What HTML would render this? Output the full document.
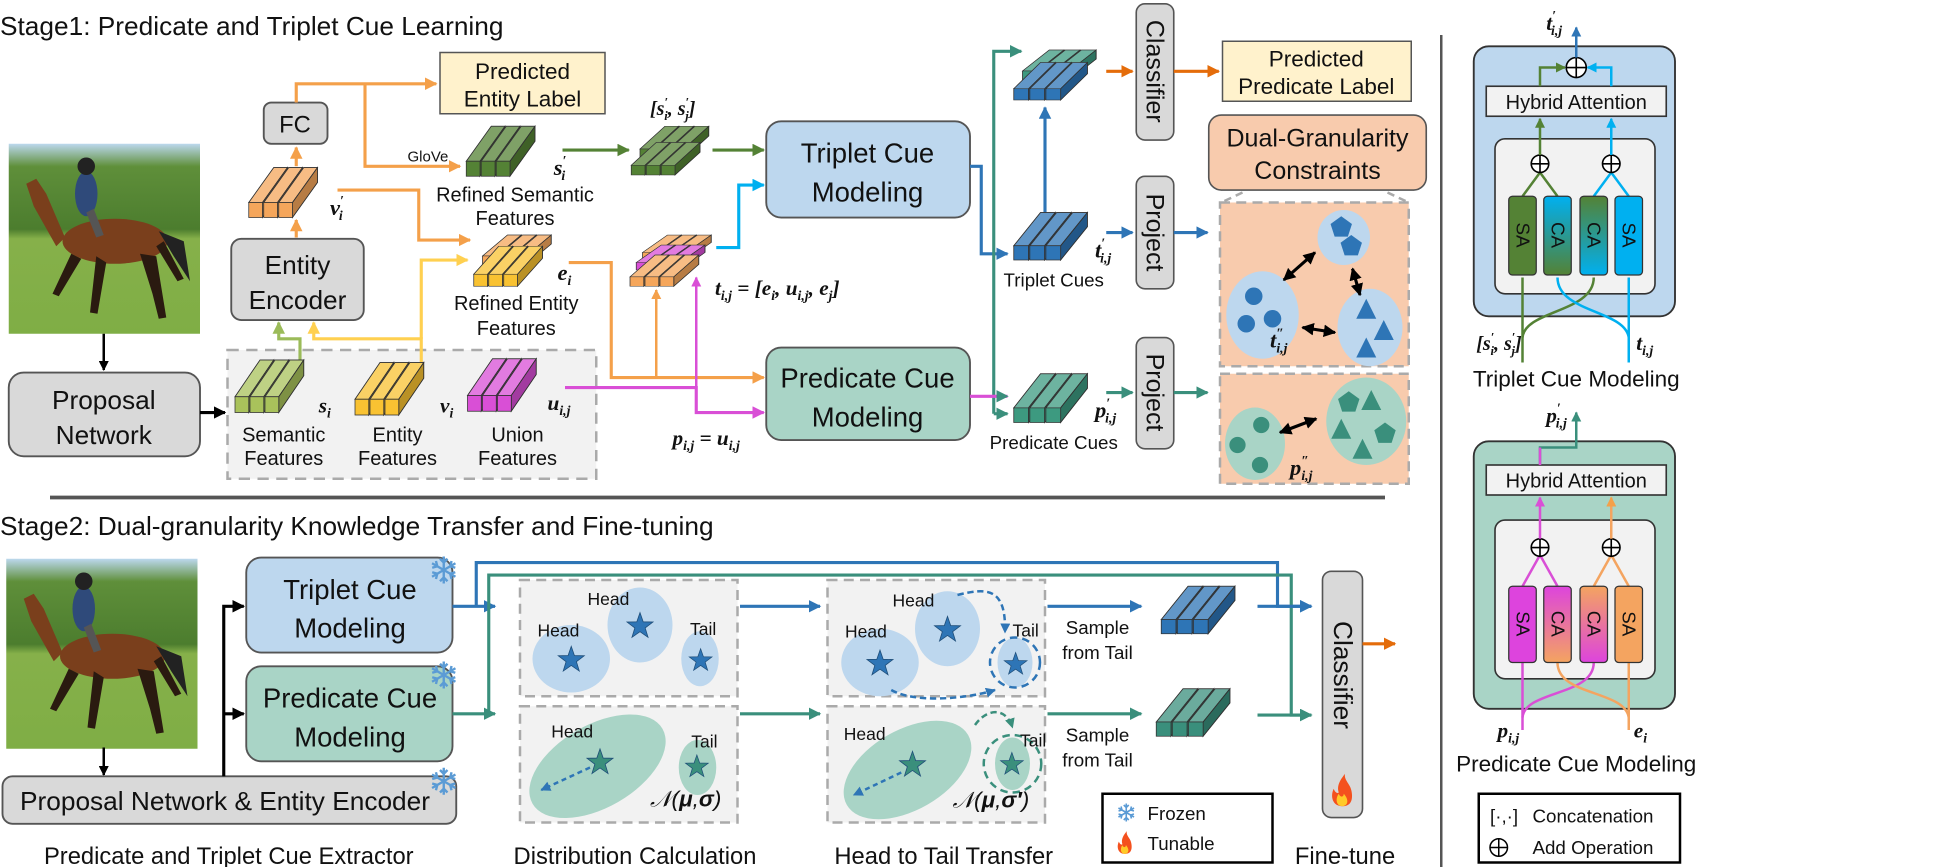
<!DOCTYPE html>
<html><head><meta charset="utf-8"><style>
html,body{margin:0;padding:0;background:#fff;}
svg{display:block;}
text{font-family:"Liberation Sans",sans-serif;fill:#111;}
.m{font-family:"Liberation Serif",serif;font-style:italic;font-weight:bold;}
</style></head><body>
<svg width="1943" height="867" viewBox="0 0 1554.4 693.6" preserveAspectRatio="none" xmlns="http://www.w3.org/2000/svg">
<defs>
<symbol id="bar" viewBox="0 0 56 40" preserveAspectRatio="none" overflow="visible">
 <g stroke="#333" stroke-width="0.6">
 <polygon points="0,28 11,28 31,0 20,0" fill="currentColor"/><polygon points="0,28 11,28 31,0 20,0" fill="#fff" fill-opacity=".25"/>
 <polygon points="11,28 31,0 31,12 11,40" fill="currentColor"/><polygon points="11,28 31,0 31,12 11,40" fill="#000" fill-opacity=".25"/>
 <rect x="0" y="28" width="11" height="12" fill="currentColor"/>
 <polygon points="12,28 23,28 43,0 32,0" fill="currentColor"/><polygon points="12,28 23,28 43,0 32,0" fill="#fff" fill-opacity=".25"/>
 <polygon points="23,28 43,0 43,12 23,40" fill="currentColor"/><polygon points="23,28 43,0 43,12 23,40" fill="#000" fill-opacity=".25"/>
 <rect x="12" y="28" width="11" height="12" fill="currentColor"/>
 <polygon points="24,28 35,28 55,0 44,0" fill="currentColor"/><polygon points="24,28 35,28 55,0 44,0" fill="#fff" fill-opacity=".25"/>
 <polygon points="35,28 55,0 55,12 35,40" fill="currentColor"/><polygon points="35,28 55,0 55,12 35,40" fill="#000" fill-opacity=".25"/>
 <rect x="24" y="28" width="11" height="12" fill="currentColor"/>
 </g>
</symbol>
<symbol id="star" viewBox="-11 -11 22 22" overflow="visible"><polygon points="0,-10 2.35,-3.24 9.51,-3.09 3.80,1.24 5.88,8.09 0,4 -5.88,8.09 -3.80,1.24 -9.51,-3.09 -2.35,-3.24" fill="currentColor" stroke="#1f4e79" stroke-width="0.6"/></symbol>
<symbol id="pent" viewBox="-10 -10 20 20" overflow="visible"><polygon points="0,-9 8.56,-2.78 5.29,7.28 -5.29,7.28 -8.56,-2.78" fill="currentColor"/></symbol>
<symbol id="tri" viewBox="-10 -10 20 20" overflow="visible"><polygon points="0,-9 8,7 -8,7" fill="currentColor"/></symbol>
<symbol id="snow" viewBox="-10 -10 20 20" overflow="visible"><g stroke="#5b9bd5" stroke-width="1.6" fill="none"><path d="M0,-9V9M-7.8,-4.5L7.8,4.5M-7.8,4.5L7.8,-4.5M-2.5,-7.5L0,-5L2.5,-7.5M-2.5,7.5L0,5L2.5,7.5M-7.7,-1.5L-4.3,-2.5L-5.2,-6M7.7,1.5L4.3,2.5L5.2,6M-7.7,1.5L-4.3,2.5L-5.2,6M7.7,-1.5L4.3,-2.5L5.2,-6"/></g></symbol>
<symbol id="fire" viewBox="-10 -14 20 28" overflow="visible"><path d="M0,13C-8,13 -10,5 -7,-1C-6,2 -4,3 -3,2C-5,-4 -1,-9 2,-13C1,-8 6,-5 7,0C8,4 9,13 0,13Z" fill="#f4511e"/><path d="M0,13C-5,13 -6,7 -3,3C-2,6 1,6 1,3C4,6 6,12 0,13Z" fill="#ffca28"/></symbol>
<linearGradient id="sky" x1="0" y1="0" x2="0" y2="1"><stop offset="0" stop-color="#bcd8ee"/><stop offset=".12" stop-color="#5f8f3a"/><stop offset=".45" stop-color="#4c7d2e"/><stop offset=".5" stop-color="#86b04a"/><stop offset="1" stop-color="#7fae45"/></linearGradient>
<linearGradient id="gc" x1="0" y1="0" x2="0" y2="1"><stop offset="0" stop-color="#00b0f0"/><stop offset="1" stop-color="#548235"/></linearGradient>
<linearGradient id="cg" x1="0" y1="0" x2="0" y2="1"><stop offset="0" stop-color="#548235"/><stop offset="1" stop-color="#00b0f0"/></linearGradient>
<linearGradient id="mo" x1="0" y1="0" x2="0" y2="1"><stop offset="0" stop-color="#dd44dd"/><stop offset="1" stop-color="#f4a460"/></linearGradient>
<linearGradient id="om" x1="0" y1="0" x2="0" y2="1"><stop offset="0" stop-color="#f4a460"/><stop offset="1" stop-color="#dd44dd"/></linearGradient>
<marker id="mO" viewBox="0 0 10 10" refX="9" refY="5" markerWidth="4" markerHeight="4" orient="auto"><path d="M0,0L10,5L0,10z" fill="#f4a04a"/></marker>
<marker id="mG" viewBox="0 0 10 10" refX="9" refY="5" markerWidth="4" markerHeight="4" orient="auto"><path d="M0,0L10,5L0,10z" fill="#548235"/></marker>
<marker id="mB" viewBox="0 0 10 10" refX="9" refY="5" markerWidth="4" markerHeight="4" orient="auto"><path d="M0,0L10,5L0,10z" fill="#2e75b6"/></marker>
<marker id="mC" viewBox="0 0 10 10" refX="9" refY="5" markerWidth="4" markerHeight="4" orient="auto"><path d="M0,0L10,5L0,10z" fill="#00b0f0"/></marker>
<marker id="mM" viewBox="0 0 10 10" refX="9" refY="5" markerWidth="4" markerHeight="4" orient="auto"><path d="M0,0L10,5L0,10z" fill="#d94fd6"/></marker>
<marker id="mT" viewBox="0 0 10 10" refX="9" refY="5" markerWidth="4" markerHeight="4" orient="auto"><path d="M0,0L10,5L0,10z" fill="#3a8f7c"/></marker>
<marker id="mY" viewBox="0 0 10 10" refX="9" refY="5" markerWidth="4" markerHeight="4" orient="auto"><path d="M0,0L10,5L0,10z" fill="#ffd050"/></marker>
<marker id="mL" viewBox="0 0 10 10" refX="9" refY="5" markerWidth="4" markerHeight="4" orient="auto"><path d="M0,0L10,5L0,10z" fill="#9bbb59"/></marker>
<marker id="mK" viewBox="0 0 10 10" refX="9" refY="5" markerWidth="4" markerHeight="4" orient="auto"><path d="M0,0L10,5L0,10z" fill="#000"/></marker>
<marker id="mKs" viewBox="0 0 10 10" refX="9" refY="5" markerWidth="4" markerHeight="4" orient="auto-start-reverse"><path d="M0,0L10,5L0,10z" fill="#000"/></marker>
<marker id="mR" viewBox="0 0 10 10" refX="9" refY="5" markerWidth="4" markerHeight="4" orient="auto"><path d="M0,0L10,5L0,10z" fill="#e46c0a"/></marker>
<g id="photo">
 <rect x="0" y="0" width="153" height="152" fill="url(#sky)"/>
 <ellipse cx="85" cy="78" rx="42" ry="18" fill="#7a3f1c"/>
 <path d="M45,75 L30,40 L22,28 L14,32 L20,50 L38,82 Z" fill="#7a3f1c"/>
 <path d="M50,88 L35,120 L40,122 L58,92Z M70,90 L65,135 L71,136 L78,95Z M105,88 L115,120 L120,140 L126,139 L118,90Z M118,82 L135,110 L140,108 L124,78Z" fill="#2a1a10"/>
 <path d="M120,70 L140,78 L145,110 L132,90Z" fill="#222"/>
 <ellipse cx="62" cy="40" rx="9" ry="18" fill="#2f4a7a"/>
 <circle cx="62" cy="18" r="7" fill="#222"/>
 <path d="M62,55 L70,75 L76,73 L68,52Z" fill="#555"/>
</g>
</defs>

<!-- ===== Stage 1 ===== -->
<text x="0" y="28" font-size="21">Stage1: Predicate and Triplet Cue Learning</text>
<use href="#photo" x="7" y="115"/>
<line x1="83" y1="267" x2="83" y2="296" stroke="#000" stroke-width="2" marker-end="url(#mK)"/>
<rect x="7" y="298" width="153" height="67" rx="12" fill="#d9d9d9" stroke="#555" stroke-width="1.5"/>
<text x="83" y="327" font-size="21" text-anchor="middle">Proposal</text>
<text x="83" y="355" font-size="21" text-anchor="middle">Network</text>
<line x1="160" y1="330" x2="180" y2="330" stroke="#000" stroke-width="2.5" marker-end="url(#mK)"/>

<rect x="182" y="280" width="295" height="103" fill="#f2f2f2" stroke="#aaa" stroke-width="2" stroke-dasharray="9,6"/>
<path d="M240,292 V271 H223 V258" fill="none" stroke="#9bbb59" stroke-width="2.5" marker-end="url(#mL)"/>
<path d="M337,292 V271 H251 V258" fill="none" stroke="#ffd050" stroke-width="2.5" marker-end="url(#mY)"/>
<path d="M337,271 V208 H374" fill="none" stroke="#ffd050" stroke-width="2.5" marker-end="url(#mY)"/>
<use href="#bar" x="188" y="288" width="56" height="42" style="color:#a9c25b"/>
<use href="#bar" x="284" y="290" width="56" height="42" style="color:#f9c232"/>
<use href="#bar" x="374" y="287" width="56" height="42" style="color:#d94fd6"/>
<text class="m" x="255" y="330" font-size="17">s<tspan font-size="11" dy="4">i</tspan></text>
<text class="m" x="352" y="330" font-size="17">v<tspan font-size="11" dy="4">i</tspan></text>
<text class="m" x="438" y="328" font-size="17">u<tspan font-size="11" dy="4">i,j</tspan></text>
<text x="227" y="353" font-size="16" text-anchor="middle">Semantic</text>
<text x="227" y="372" font-size="16" text-anchor="middle">Features</text>
<text x="318" y="353" font-size="16" text-anchor="middle">Entity</text>
<text x="318" y="372" font-size="16" text-anchor="middle">Features</text>
<text x="414" y="353" font-size="16" text-anchor="middle">Union</text>
<text x="414" y="372" font-size="16" text-anchor="middle">Features</text>

<rect x="185" y="191" width="106" height="65" rx="8" fill="#d9d9d9" stroke="#555" stroke-width="1.5"/>
<text x="238" y="219" font-size="21" text-anchor="middle">Entity</text>
<text x="238" y="247" font-size="21" text-anchor="middle">Encoder</text>

<line x1="237" y1="190" x2="237" y2="176" stroke="#f4a04a" stroke-width="2.5" marker-end="url(#mO)"/>
<use href="#bar" x="199" y="134" width="56" height="40" style="color:#f5a65b"/>
<text class="m" x="264" y="172" font-size="18">v<tspan font-size="11" dy="-8">′</tspan><tspan font-size="11" dx="-4" dy="12">i</tspan></text>
<line x1="237" y1="133" x2="237" y2="118" stroke="#f4a04a" stroke-width="2.5" marker-end="url(#mO)"/>
<rect x="211" y="82" width="51" height="33" rx="6" fill="#d9d9d9" stroke="#555" stroke-width="1.5"/>
<text x="236" y="106" font-size="19" text-anchor="middle">FC</text>
<path d="M237,82 V67 H349" fill="none" stroke="#f4a04a" stroke-width="2.5" marker-end="url(#mO)"/>
<path d="M292,67 V133 H368" fill="none" stroke="#f4a04a" stroke-width="2.5" marker-end="url(#mO)"/>
<text x="326" y="129" font-size="12">GloVe</text>
<path d="M270,152 H335 V192 H376" fill="none" stroke="#f4a04a" stroke-width="2.5" marker-end="url(#mO)"/>
<rect x="352" y="42" width="132" height="49" fill="#fff2cc" stroke="#555" stroke-width="1.2"/>
<text x="418" y="63" font-size="18" text-anchor="middle">Predicted</text>
<text x="418" y="85" font-size="18" text-anchor="middle">Entity Label</text>

<use href="#bar" x="373" y="101" width="56" height="40" style="color:#548235"/>
<text class="m" x="443" y="140" font-size="18">s<tspan font-size="11" dy="-8">′</tspan><tspan font-size="11" dx="-4" dy="12">i</tspan></text>
<text x="412" y="161" font-size="16" text-anchor="middle">Refined Semantic</text>
<text x="412" y="180" font-size="16" text-anchor="middle">Features</text>
<line x1="450" y1="120" x2="503" y2="120" stroke="#548235" stroke-width="2.5" marker-end="url(#mG)"/>
<use href="#bar" x="512" y="101" width="56" height="26" style="color:#548235"/>
<use href="#bar" x="505" y="114" width="56" height="26" style="color:#548235"/>
<text class="m" x="520" y="92" font-size="16">[s<tspan font-size="10" dy="-7">′</tspan><tspan font-size="10" dx="-3" dy="11">i</tspan><tspan dy="-4">, s</tspan><tspan font-size="10" dy="-7">′</tspan><tspan font-size="10" dx="-3" dy="11">j</tspan><tspan dy="-4">]</tspan></text>
<line x1="570" y1="120" x2="611" y2="120" stroke="#548235" stroke-width="2.5" marker-end="url(#mG)"/>
<rect x="613" y="97" width="163" height="77" rx="12" fill="#bdd7ee" stroke="#555" stroke-width="1.5"/>
<text x="694" y="130" font-size="22" text-anchor="middle">Triplet Cue</text>
<text x="694" y="161" font-size="22" text-anchor="middle">Modeling</text>

<use href="#bar" x="386" y="188" width="56" height="24" style="color:#f5a65b"/>
<use href="#bar" x="379" y="197" width="56" height="32" style="color:#f9c232"/>
<text class="m" x="446" y="224" font-size="18">e<tspan font-size="11" dy="4">i</tspan></text>
<text x="413" y="248" font-size="16" text-anchor="middle">Refined Entity</text>
<text x="413" y="268" font-size="16" text-anchor="middle">Features</text>

<path d="M455,210 H489 V302 H611" fill="none" stroke="#f4a04a" stroke-width="2.5" marker-end="url(#mO)"/>
<line x1="525" y1="302" x2="525" y2="232" stroke="#f4a04a" stroke-width="2" marker-end="url(#mO)"/>
<path d="M452,310 H557 V330 H611" fill="none" stroke="#d94fd6" stroke-width="2.5" marker-end="url(#mM)"/>
<line x1="557" y1="310" x2="557" y2="222" stroke="#d94fd6" stroke-width="2" marker-end="url(#mM)"/>
<use href="#bar" x="514" y="188" width="56" height="20" style="color:#f5a65b"/>
<use href="#bar" x="509" y="196" width="56" height="20" style="color:#d94fd6"/>
<use href="#bar" x="504" y="204" width="56" height="25" style="color:#f5a65b"/>
<path d="M573,198 H591 V148 H611" fill="none" stroke="#00b0f0" stroke-width="2.5" marker-end="url(#mC)"/>
<text class="m" x="572" y="236" font-size="17">t<tspan font-size="11" dy="4">i,j</tspan><tspan dy="-4"> = [e</tspan><tspan font-size="11" dy="4">i</tspan><tspan dy="-4">, u</tspan><tspan font-size="11" dy="4">i,j</tspan><tspan dy="-4">, e</tspan><tspan font-size="11" dy="4">j</tspan><tspan dy="-4">]</tspan></text>
<text class="m" x="538" y="356" font-size="17">p<tspan font-size="11" dy="4">i,j</tspan><tspan dy="-4"> = u</tspan><tspan font-size="11" dy="4">i,j</tspan></text>
<rect x="613" y="278" width="163" height="74" rx="12" fill="#a9d4c6" stroke="#555" stroke-width="1.5"/>
<text x="694" y="310" font-size="22" text-anchor="middle">Predicate Cue</text>
<text x="694" y="341" font-size="22" text-anchor="middle">Modeling</text>

<path d="M776,133 H785 V203 H806" fill="none" stroke="#2e75b6" stroke-width="2.5" marker-end="url(#mB)"/>
<path d="M795,331 V41 H817" fill="none" stroke="#3a8f7c" stroke-width="2.5" marker-end="url(#mT)"/>
<line x1="795" y1="331" x2="806" y2="331" stroke="#3a8f7c" stroke-width="2.5" marker-end="url(#mT)"/>
<line x1="776" y1="317" x2="806" y2="317" stroke="#d94fd6" stroke-width="2.5" marker-end="url(#mT)"/>
<use href="#bar" x="818" y="40" width="60" height="24" style="color:#3d9a80"/>
<use href="#bar" x="811" y="50" width="60" height="30" style="color:#2e75b6"/>
<line x1="836" y1="170" x2="836" y2="86" stroke="#2e75b6" stroke-width="2.5" marker-end="url(#mB)"/>
<use href="#bar" x="811" y="170" width="60" height="38" style="color:#2e75b6"/>
<text class="m" x="876" y="206" font-size="18">t<tspan font-size="11" dy="-8">′</tspan><tspan font-size="11" dx="-4" dy="12">i,j</tspan></text>
<text x="843" y="229" font-size="15" text-anchor="middle">Triplet Cues</text>
<use href="#bar" x="811" y="299" width="60" height="39" style="color:#3d9a80"/>
<text class="m" x="876" y="334" font-size="18">p<tspan font-size="11" dy="-8">′</tspan><tspan font-size="11" dx="-4" dy="12">i,j</tspan></text>
<text x="843" y="359" font-size="15" text-anchor="middle">Predicate Cues</text>

<line x1="885" y1="57" x2="906" y2="57" stroke="#e46c0a" stroke-width="2.5" marker-end="url(#mR)"/>
<rect x="909" y="3" width="30" height="109" rx="7" fill="#d9d9d9" stroke="#555" stroke-width="1.3"/>
<text transform="translate(917,57) rotate(90)" font-size="20" text-anchor="middle">Classifier</text>
<line x1="939" y1="57" x2="975" y2="57" stroke="#e46c0a" stroke-width="2.5" marker-end="url(#mR)"/>
<rect x="978" y="33" width="151" height="48" fill="#fff2cc" stroke="#555" stroke-width="1.2"/>
<text x="1053" y="53" font-size="18" text-anchor="middle">Predicted</text>
<text x="1053" y="75" font-size="18" text-anchor="middle">Predicate Label</text>

<line x1="885" y1="186" x2="906" y2="186" stroke="#2e75b6" stroke-width="2.5" marker-end="url(#mB)"/>
<rect x="909" y="141" width="30" height="90" rx="7" fill="#d9d9d9" stroke="#555" stroke-width="1.3"/>
<text transform="translate(917,186) rotate(90)" font-size="20" text-anchor="middle">Project</text>
<line x1="939" y1="186" x2="966" y2="186" stroke="#2e75b6" stroke-width="2.5" marker-end="url(#mB)"/>
<line x1="885" y1="314" x2="906" y2="314" stroke="#3a8f7c" stroke-width="2.5" marker-end="url(#mT)"/>
<rect x="909" y="270" width="30" height="89" rx="7" fill="#d9d9d9" stroke="#555" stroke-width="1.3"/>
<text transform="translate(917,314) rotate(90)" font-size="20" text-anchor="middle">Project</text>
<line x1="939" y1="314" x2="966" y2="314" stroke="#3a8f7c" stroke-width="2.5" marker-end="url(#mT)"/>

<rect x="967" y="92" width="174" height="60" rx="10" fill="#f8cbad" stroke="#555" stroke-width="1.3"/>
<text x="1054" y="117" font-size="20" text-anchor="middle">Dual-Granularity</text>
<text x="1054" y="143" font-size="20" text-anchor="middle">Constraints</text>
<path d="M994,154 L977,162 M1110,154 L1127,162" stroke="#aaa" stroke-width="2" stroke-dasharray="6,4"/>
<rect x="976" y="162" width="151" height="131" fill="#f8cbad" stroke="#aaa" stroke-width="2" stroke-dasharray="8,5"/>
<ellipse cx="1075" cy="190" rx="21" ry="22" fill="#bdd7ee"/>
<use href="#pent" x="1063" y="172" width="20" height="20" style="color:#2e75b6"/>
<use href="#pent" x="1071" y="187" width="20" height="20" style="color:#2e75b6"/>
<ellipse cx="1010" cy="252" rx="29" ry="35" fill="#bdd7ee"/>
<circle cx="1003" cy="237" r="7" fill="#2e75b6"/><circle cx="997" cy="259" r="7" fill="#2e75b6"/><circle cx="1018" cy="255" r="7" fill="#2e75b6"/>
<ellipse cx="1096" cy="262" rx="26" ry="31" fill="#bdd7ee"/>
<use href="#tri" x="1083" y="238" width="20" height="20" style="color:#2e75b6"/>
<use href="#tri" x="1097" y="255" width="20" height="20" style="color:#2e75b6"/>
<use href="#tri" x="1083" y="269" width="20" height="20" style="color:#2e75b6"/>
<line x1="1027" y1="224" x2="1052" y2="202" stroke="#000" stroke-width="2.5" marker-start="url(#mKs)" marker-end="url(#mKs)"/>
<line x1="1082" y1="215" x2="1088" y2="236" stroke="#000" stroke-width="2.5" marker-start="url(#mKs)" marker-end="url(#mKs)"/>
<line x1="1042" y1="262" x2="1068" y2="266" stroke="#000" stroke-width="2.5" marker-start="url(#mKs)" marker-end="url(#mKs)"/>
<text class="m" x="1016" y="278" font-size="18">t<tspan font-size="11" dy="-8">″</tspan><tspan font-size="11" dx="-6" dy="12">i,j</tspan></text>

<rect x="976" y="299" width="151" height="88" fill="#f8cbad" stroke="#aaa" stroke-width="2" stroke-dasharray="8,5"/>
<ellipse cx="1004" cy="355" rx="24" ry="29" fill="#a9d4c6"/>
<circle cx="1009" cy="340" r="6.5" fill="#3a8f7c"/><circle cx="990" cy="356" r="6.5" fill="#3a8f7c"/><circle cx="1008" cy="372" r="6.5" fill="#3a8f7c"/>
<ellipse cx="1093" cy="337" rx="32" ry="35" fill="#a9d4c6"/>
<use href="#pent" x="1069" y="312" width="20" height="20" style="color:#3a8f7c"/>
<use href="#tri" x="1087" y="311" width="20" height="20" style="color:#3a8f7c"/>
<use href="#tri" x="1063" y="334" width="20" height="20" style="color:#3a8f7c"/>
<use href="#pent" x="1098" y="337" width="20" height="20" style="color:#3a8f7c"/>
<use href="#tri" x="1080" y="350" width="20" height="20" style="color:#3a8f7c"/>
<line x1="1024" y1="346" x2="1053" y2="335" stroke="#000" stroke-width="2.5" marker-start="url(#mKs)" marker-end="url(#mKs)"/>
<text class="m" x="1032" y="380" font-size="18">p<tspan font-size="11" dy="-8">″</tspan><tspan font-size="11" dx="-6" dy="12">i,j</tspan></text>

<line x1="40" y1="398" x2="1108" y2="398" stroke="#555" stroke-width="3"/>
<line x1="1153" y1="28" x2="1153" y2="694" stroke="#555" stroke-width="2"/>

<!-- ===== Right panels ===== -->
<rect x="1179" y="37" width="161" height="216" rx="12" fill="#bdd7ee" stroke="#333" stroke-width="1.5"/>
<rect x="1189" y="69" width="144" height="24" fill="#f2f2f2" stroke="#333" stroke-width="1.3"/>
<text x="1261" y="87" font-size="16" text-anchor="middle">Hybrid Attention</text>
<rect x="1196" y="111" width="128" height="124" rx="8" fill="#f2f2f2" stroke="#333" stroke-width="1.3"/>
<path d="M1218,157 L1232,138 M1246,157 L1232,138" fill="none" stroke="#548235" stroke-width="2"/>
<path d="M1218,290 V222" fill="none" stroke="#548235" stroke-width="2"/>
<path d="M1218,270 C1220,248 1275,250 1275,222" fill="none" stroke="#548235" stroke-width="2"/>
<path d="M1303,157 L1289,138 M1275,157 L1289,138" fill="none" stroke="#00b0f0" stroke-width="2"/>
<path d="M1303,290 V222" fill="none" stroke="#00b0f0" stroke-width="2"/>
<path d="M1303,270 C1300,248 1246,250 1246,222" fill="none" stroke="#00b0f0" stroke-width="2"/>
<rect x="1207" y="157" width="22" height="63" rx="3" fill="#548235" stroke="#333"/>
<rect x="1235" y="157" width="22" height="63" rx="3" fill="url(#gc)" stroke="#333"/>
<rect x="1264" y="157" width="22" height="63" rx="3" fill="url(#cg)" stroke="#333"/>
<rect x="1292" y="157" width="22" height="63" rx="3" fill="#00b0f0" stroke="#333"/>
<text transform="translate(1213,188) rotate(90)" font-size="15" text-anchor="middle">SA</text>
<text transform="translate(1241,188) rotate(90)" font-size="15" text-anchor="middle">CA</text>
<text transform="translate(1270,188) rotate(90)" font-size="15" text-anchor="middle">CA</text>
<text transform="translate(1298,188) rotate(90)" font-size="15" text-anchor="middle">SA</text>
<circle cx="1232" cy="131" r="7" fill="#fff" stroke="#000" stroke-width="1.3"/><path d="M1225,131H1239M1232,124V138" stroke="#000" stroke-width="1.3"/>
<circle cx="1289" cy="131" r="7" fill="#fff" stroke="#000" stroke-width="1.3"/><path d="M1282,131H1296M1289,124V138" stroke="#000" stroke-width="1.3"/>
<line x1="1232" y1="124" x2="1232" y2="95" stroke="#548235" stroke-width="2" marker-end="url(#mG)"/>
<line x1="1289" y1="124" x2="1289" y2="95" stroke="#00b0f0" stroke-width="2" marker-end="url(#mC)"/>
<path d="M1232,69 V54 H1252" fill="none" stroke="#548235" stroke-width="2" marker-end="url(#mG)"/>
<path d="M1289,69 V54 H1270" fill="none" stroke="#00b0f0" stroke-width="2" marker-end="url(#mC)"/>
<circle cx="1261" cy="54" r="8" fill="#fff" stroke="#000" stroke-width="1.3"/><path d="M1253,54H1269M1261,46V62" stroke="#000" stroke-width="1.3"/>
<line x1="1261" y1="46" x2="1261" y2="22" stroke="#2e75b6" stroke-width="2" marker-end="url(#mB)"/>
<text class="m" x="1237" y="24" font-size="17">t<tspan font-size="11" dy="-8">′</tspan><tspan font-size="11" dx="-4" dy="12">i,j</tspan></text>
<text class="m" x="1181" y="280" font-size="16">[s<tspan font-size="10" dy="-7">′</tspan><tspan font-size="10" dx="-3" dy="11">i</tspan><tspan dy="-4">, s</tspan><tspan font-size="10" dy="-7">′</tspan><tspan font-size="10" dx="-3" dy="11">j</tspan><tspan dy="-4">]</tspan></text>
<text class="m" x="1309" y="280" font-size="17">t<tspan font-size="11" dy="4">i,j</tspan></text>
<text x="1261" y="309" font-size="18" text-anchor="middle">Triplet Cue Modeling</text>

<g transform="translate(0,312)">
<rect x="1179" y="41" width="161" height="214" rx="12" fill="#a9d4c6" stroke="#333" stroke-width="1.5"/>
<rect x="1189" y="60" width="144" height="24" fill="#f2f2f2" stroke="#333" stroke-width="1.3"/>
<text x="1261" y="78" font-size="16" text-anchor="middle">Hybrid Attention</text>
<rect x="1196" y="104" width="128" height="127" rx="8" fill="#f2f2f2" stroke="#333" stroke-width="1.3"/>
<path d="M1218,272 V218 M1218,157 L1232,132 M1246,157 L1232,132" fill="none" stroke="#d94fd6" stroke-width="2"/>
<path d="M1218,262 C1220,240 1275,245 1275,218" fill="none" stroke="#d94fd6" stroke-width="2"/>
<path d="M1303,272 V218 M1303,157 L1289,132 M1275,157 L1289,132" fill="none" stroke="#f4a460" stroke-width="2"/>
<path d="M1303,262 C1300,240 1246,245 1246,218" fill="none" stroke="#f4a460" stroke-width="2"/>
<rect x="1207" y="157" width="22" height="61" rx="3" fill="#dd44dd" stroke="#333"/>
<rect x="1235" y="157" width="22" height="61" rx="3" fill="url(#mo)" stroke="#333"/>
<rect x="1264" y="157" width="22" height="61" rx="3" fill="url(#om)" stroke="#333"/>
<rect x="1292" y="157" width="22" height="61" rx="3" fill="#f4a460" stroke="#333"/>
<text transform="translate(1213,187) rotate(90)" font-size="15" text-anchor="middle">SA</text>
<text transform="translate(1241,187) rotate(90)" font-size="15" text-anchor="middle">CA</text>
<text transform="translate(1270,187) rotate(90)" font-size="15" text-anchor="middle">CA</text>
<text transform="translate(1298,187) rotate(90)" font-size="15" text-anchor="middle">SA</text>
<circle cx="1232" cy="126" r="7" fill="#fff" stroke="#000" stroke-width="1.3"/><path d="M1225,126H1239M1232,119V133" stroke="#000" stroke-width="1.3"/>
<circle cx="1289" cy="126" r="7" fill="#fff" stroke="#000" stroke-width="1.3"/><path d="M1282,126H1296M1289,119V133" stroke="#000" stroke-width="1.3"/>
<line x1="1232" y1="119" x2="1232" y2="86" stroke="#d94fd6" stroke-width="2" marker-end="url(#mM)"/>
<line x1="1289" y1="119" x2="1289" y2="86" stroke="#f4a460" stroke-width="2" marker-end="url(#mO)"/>
<path d="M1232,60 V46 H1261 V18" fill="none" stroke="#3a8f7c" stroke-width="2" marker-end="url(#mT)"/>
<path d="M1232,60 V46" stroke="#d94fd6" stroke-width="2"/>
</g>
<text class="m" x="1237" y="338" font-size="17">p<tspan font-size="11" dy="-8">′</tspan><tspan font-size="11" dx="-4" dy="12">i,j</tspan></text>
<text class="m" x="1198" y="590" font-size="17">p<tspan font-size="11" dy="4">i,j</tspan></text>
<text class="m" x="1307" y="590" font-size="17">e<tspan font-size="11" dy="4">i</tspan></text>
<text x="1261" y="617" font-size="18" text-anchor="middle">Predicate Cue Modeling</text>
<rect x="1183" y="635" width="161" height="55" fill="#fff" stroke="#000" stroke-width="2"/>
<text x="1192" y="658" font-size="15" font-family="Liberation Serif">[·,·]</text>
<text x="1226" y="658" font-size="15">Concatenation</text>
<circle cx="1199" cy="678" r="7" fill="none" stroke="#000" stroke-width="1.2"/><path d="M1192,678H1206M1199,671V685" stroke="#000" stroke-width="1.2"/>
<text x="1226" y="683" font-size="15">Add Operation</text>

<!-- ===== Stage 2 ===== -->
<text x="0" y="428" font-size="21">Stage2: Dual-granularity Knowledge Transfer and Fine-tuning</text>
<use href="#photo" x="5" y="447"/>
<line x1="83" y1="598" x2="83" y2="620" stroke="#000" stroke-width="2" marker-end="url(#mK)"/>
<rect x="2" y="621" width="363" height="38" rx="8" fill="#d9d9d9" stroke="#555" stroke-width="1.5"/>
<text x="180" y="648" font-size="21" text-anchor="middle">Proposal Network &amp; Entity Encoder</text>
<path d="M179,621 V485 H195" fill="none" stroke="#000" stroke-width="2.5" marker-end="url(#mK)"/>
<line x1="179" y1="571" x2="195" y2="571" stroke="#000" stroke-width="2.5" marker-end="url(#mK)"/>
<rect x="197" y="446" width="165" height="76" rx="12" fill="#bdd7ee" stroke="#555" stroke-width="1.5"/>
<text x="280" y="479" font-size="22" text-anchor="middle">Triplet Cue</text>
<text x="280" y="510" font-size="22" text-anchor="middle">Modeling</text>
<rect x="197" y="533" width="165" height="76" rx="12" fill="#a9d4c6" stroke="#555" stroke-width="1.5"/>
<text x="280" y="566" font-size="22" text-anchor="middle">Predicate Cue</text>
<text x="280" y="597" font-size="22" text-anchor="middle">Modeling</text>
<use href="#snow" x="343" y="444" width="24" height="24"/>
<use href="#snow" x="343" y="528" width="24" height="24"/>
<use href="#snow" x="343" y="613" width="24" height="24"/>

<path d="M362,485 H396" stroke="#2e75b6" stroke-width="2.5" marker-end="url(#mB)"/>
<path d="M381,485 V450 H1022 V485 H1049" fill="none" stroke="#2e75b6" stroke-width="2.5" marker-end="url(#mB)"/>
<path d="M362,571 H396" stroke="#3a8f7c" stroke-width="2.5" marker-end="url(#mT)"/>
<path d="M391,571 V460 H1033 V572 H1049" fill="none" stroke="#3a8f7c" stroke-width="2.5" marker-end="url(#mT)"/>

<rect x="416" y="464" width="174" height="93" fill="#f2f2f2" stroke="#aaa" stroke-width="2" stroke-dasharray="8,5"/>
<ellipse cx="457" cy="527" rx="31" ry="27" fill="#bdd7ee"/>
<ellipse cx="512" cy="500" rx="26" ry="30" fill="#bdd7ee"/>
<ellipse cx="560" cy="527" rx="15" ry="22" fill="#bdd7ee"/>
<use href="#star" x="445" y="516" width="24" height="24" style="color:#2e75b6"/>
<use href="#star" x="500" y="489" width="24" height="24" style="color:#2e75b6"/>
<use href="#star" x="550" y="518" width="21" height="21" style="color:#2e75b6"/>
<text x="430" y="509" font-size="14">Head</text>
<text x="470" y="484" font-size="14">Head</text>
<text x="552" y="508" font-size="14">Tail</text>
<rect x="416" y="565" width="174" height="93" fill="#f2f2f2" stroke="#aaa" stroke-width="2" stroke-dasharray="8,5"/>
<ellipse cx="478" cy="613" rx="60" ry="33" transform="rotate(-30 478 613)" fill="#a9d4c6"/>
<ellipse cx="558" cy="614" rx="15" ry="22" fill="#a9d4c6"/>
<use href="#star" x="468" y="598" width="24" height="24" style="color:#3a8f7c"/>
<use href="#star" x="547" y="603" width="21" height="21" style="color:#3a8f7c"/>
<line x1="472" y1="614" x2="433" y2="632" stroke="#2e75b6" stroke-width="2" stroke-dasharray="4,3" marker-end="url(#mB)"/>
<text x="441" y="590" font-size="14">Head</text>
<text x="553" y="598" font-size="14">Tail</text>
<text x="520" y="645" font-size="18" font-family="Liberation Serif" font-style="italic">𝒩(<tspan font-weight="bold">μ</tspan>,<tspan font-weight="bold">σ</tspan>)</text>

<line x1="592" y1="485" x2="656" y2="485" stroke="#2e75b6" stroke-width="2.5" marker-end="url(#mB)"/>
<line x1="592" y1="571" x2="656" y2="571" stroke="#3a8f7c" stroke-width="2.5" marker-end="url(#mT)"/>

<rect x="662" y="464" width="174" height="93" fill="#f2f2f2" stroke="#aaa" stroke-width="2" stroke-dasharray="8,5"/>
<ellipse cx="704" cy="530" rx="31" ry="27" fill="#bdd7ee"/>
<ellipse cx="758" cy="503" rx="26" ry="30" fill="#bdd7ee"/>
<ellipse cx="812" cy="530" rx="14" ry="20" fill="#bdd7ee"/>
<circle cx="812" cy="530" r="20" fill="none" stroke="#2e75b6" stroke-width="2" stroke-dasharray="6,4"/>
<use href="#star" x="692" y="519" width="24" height="24" style="color:#2e75b6"/>
<use href="#star" x="746" y="492" width="24" height="24" style="color:#2e75b6"/>
<use href="#star" x="802" y="521" width="21" height="21" style="color:#2e75b6"/>
<path d="M766,476 C790,470 805,470 804,506" fill="none" stroke="#2e75b6" stroke-width="2" stroke-dasharray="5,3" marker-end="url(#mB)"/>
<path d="M713,552 C730,562 770,560 796,552" fill="none" stroke="#2e75b6" stroke-width="2" stroke-dasharray="5,3" marker-end="url(#mB)"/>
<text x="676" y="510" font-size="14">Head</text>
<text x="714" y="485" font-size="14">Head</text>
<text x="810" y="509" font-size="14">Tail</text>
<rect x="662" y="565" width="174" height="93" fill="#f2f2f2" stroke="#aaa" stroke-width="2" stroke-dasharray="8,5"/>
<ellipse cx="726" cy="616" rx="56" ry="32" transform="rotate(-30 726 616)" fill="#a9d4c6"/>
<ellipse cx="810" cy="611" rx="14" ry="21" fill="#a9d4c6"/>
<circle cx="810" cy="611" r="23" fill="none" stroke="#3a8f7c" stroke-width="2" stroke-dasharray="6,4"/>
<use href="#star" x="718" y="600" width="24" height="24" style="color:#3a8f7c"/>
<use href="#star" x="799" y="601" width="21" height="21" style="color:#3a8f7c"/>
<line x1="721" y1="618" x2="683" y2="636" stroke="#2e75b6" stroke-width="2" stroke-dasharray="4,3" marker-end="url(#mB)"/>
<path d="M780,580 C790,566 805,566 810,582" fill="none" stroke="#3a8f7c" stroke-width="2" stroke-dasharray="5,3" marker-end="url(#mT)"/>
<text x="675" y="592" font-size="14">Head</text>
<text x="816" y="597" font-size="14">Tail</text>
<text x="762" y="646" font-size="18" font-family="Liberation Serif" font-style="italic">𝒩(<tspan font-weight="bold">μ</tspan>,<tspan font-weight="bold">σ′</tspan>)</text>

<line x1="838" y1="485" x2="913" y2="485" stroke="#2e75b6" stroke-width="2.5" marker-end="url(#mB)"/>
<text x="878" y="507" font-size="15" text-anchor="middle">Sample</text>
<text x="878" y="527" font-size="15" text-anchor="middle">from Tail</text>
<line x1="838" y1="571" x2="913" y2="571" stroke="#3a8f7c" stroke-width="2.5" marker-end="url(#mT)"/>
<text x="878" y="593" font-size="15" text-anchor="middle">Sample</text>
<text x="878" y="613" font-size="15" text-anchor="middle">from Tail</text>
<use href="#bar" x="929" y="469" width="60" height="38" style="color:#2e75b6"/>
<use href="#bar" x="925" y="551" width="60" height="38" style="color:#3a8f7c"/>
<line x1="1006" y1="485" x2="1049" y2="485" stroke="#2e75b6" stroke-width="2.5" marker-end="url(#mB)"/>
<line x1="1006" y1="572" x2="1049" y2="572" stroke="#3a8f7c" stroke-width="2.5" marker-end="url(#mT)"/>
<rect x="1058" y="457" width="32" height="197" rx="7" fill="#d9d9d9" stroke="#555" stroke-width="1.3"/>
<text transform="translate(1067,540) rotate(90)" font-size="21" text-anchor="middle">Classifier</text>
<use href="#fire" x="1064" y="618" width="20" height="28"/>
<line x1="1090" y1="515" x2="1116" y2="515" stroke="#e46c0a" stroke-width="2.5" marker-end="url(#mR)"/>

<rect x="882" y="635" width="136" height="55" fill="#fff" stroke="#000" stroke-width="2"/>
<use href="#snow" x="893" y="642" width="16" height="16"/>
<text x="918" y="656" font-size="15">Frozen</text>
<use href="#fire" x="893" y="664" width="14" height="20"/>
<text x="918" y="680" font-size="15">Tunable</text>

<text x="183" y="691" font-size="19" text-anchor="middle">Predicate and Triplet Cue Extractor</text>
<text x="508" y="691" font-size="19" text-anchor="middle">Distribution Calculation</text>
<text x="755" y="691" font-size="19" text-anchor="middle">Head to Tail Transfer</text>
<text x="1076" y="691" font-size="19" text-anchor="middle">Fine-tune</text>
</svg>
</body></html>
